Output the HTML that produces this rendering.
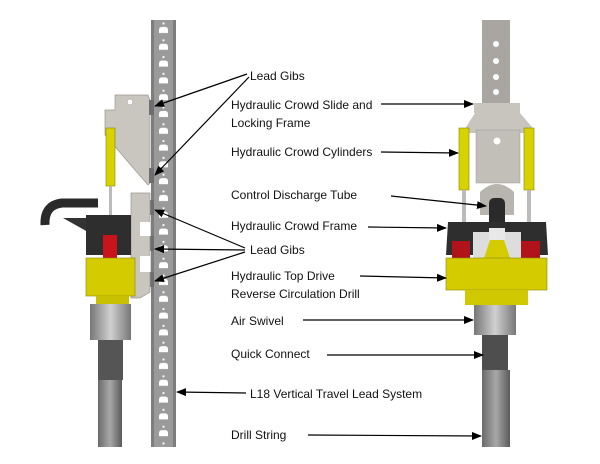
<!DOCTYPE html>
<html><head><meta charset="utf-8"><style>
html,body{margin:0;padding:0;background:#fff;}
svg{display:block;}
text{font-family:"Liberation Sans",sans-serif;font-size:12px;fill:#111;}
</style></head><body>
<svg width="600" height="464" viewBox="0 0 600 464" xmlns="http://www.w3.org/2000/svg">
<defs>
<marker id="ah" markerWidth="10" markerHeight="8" refX="9" refY="4" orient="auto" markerUnits="userSpaceOnUse">
<path d="M0,0 L10,4 L0,8 Z" fill="#000"/></marker>
<pattern id="holes" x="151" y="22" width="25" height="16.8" patternUnits="userSpaceOnUse">
<path d="M8,11 L8,8 Q8,5 11,5 L14,5 Q17,5 17,8 L17,11 Z" fill="#fff"/>
<circle cx="12.5" cy="1.5" r="1.1" fill="#fff"/>
</pattern>
<linearGradient id="gs" x1="0" x2="1"><stop offset="0" stop-color="#6a6a6a"/><stop offset="0.5" stop-color="#a8a8a8"/><stop offset="1" stop-color="#5a5a5a"/></linearGradient>
<linearGradient id="sw" x1="0" x2="1"><stop offset="0" stop-color="#777"/><stop offset="0.5" stop-color="#d0d0d0"/><stop offset="1" stop-color="#777"/></linearGradient>
</defs>

<rect x="151" y="20" width="25" height="427" fill="#9a9a9a"/>
<rect x="151" y="20" width="3" height="427" fill="#7d7d7d"/>
<rect x="173" y="20" width="3" height="427" fill="#7d7d7d"/>
<rect x="151" y="20" width="25" height="427" fill="url(#holes)"/>

<path d="M115,95 L148,95 L150,100 L150,183 L148,185 L135,170 L105,135 L105,110 L115,110 Z" fill="#c9c5bf" stroke="#9a968f" stroke-width="0.7"/>
<circle cx="130" cy="102" r="3" fill="#fff" stroke="#888" stroke-width="0.5"/>
<rect x="149" y="100" width="5" height="15" fill="#6e6e6e"/>
<rect x="149" y="168" width="5" height="15" fill="#6e6e6e"/>
<rect x="149" y="200" width="5" height="15" fill="#6e6e6e"/>
<rect x="149" y="236" width="5" height="15" fill="#6e6e6e"/>
<rect x="149" y="272" width="5" height="15" fill="#6e6e6e"/>
<path d="M131,193 L150,193 L150,292 L140,298 L131,298 Z" fill="#c9c5bf" stroke="#9a968f" stroke-width="0.7"/>
<rect x="140" y="222" width="10" height="14" fill="#fff"/>
<rect x="140" y="256" width="10" height="16" fill="#fff"/>
<rect x="106" y="128" width="9" height="58" fill="#d8d200" stroke="#8a8600" stroke-width="0.6"/>
<rect x="109" y="186" width="3" height="36" fill="#bbb"/>
<path d="M45,225 Q44,205 62,203 L98,203" fill="none" stroke="#2a2a2a" stroke-width="9"/>
<path d="M63,218 L131,218 L131,232 L88,232 Z" fill="#333"/>
<rect x="86" y="215" width="45" height="40" fill="#2e2e2e"/>
<rect x="103" y="235" width="14" height="25" fill="#c8141a"/>
<rect x="86" y="258" width="49" height="38" fill="#d4cc00" stroke="#8a8600" stroke-width="0.6"/>
<rect x="96" y="296" width="33" height="8" fill="#c8c000"/>
<rect x="90" y="304" width="41" height="36" fill="url(#sw)"/>
<rect x="98" y="340" width="25" height="40" fill="#555"/>
<rect x="98" y="380" width="24" height="67" fill="url(#gs)"/>

<rect x="482" y="20" width="28" height="90" fill="#a9a6a2"/>
<circle cx="496" cy="44" r="3" fill="#fff"/><circle cx="496" cy="61" r="3" fill="#fff"/><circle cx="496" cy="77" r="3" fill="#fff"/><circle cx="496" cy="92" r="3" fill="#fff"/>
<rect x="474" y="103" width="46" height="10" fill="#c8c4be"/>
<path d="M466,127 L475,113 L520,113 L532,127 Z" fill="#c8c4be"/>
<rect x="466" y="127" width="66" height="6" fill="#c8c4be"/>
<rect x="476" y="130" width="44" height="53" fill="#c2beb8" stroke="#999" stroke-width="0.5"/>
<circle cx="497" cy="141" r="3.5" fill="#fff"/>
<path d="M480,215 L480,192 Q497,176 514,192 L514,215 Z" fill="#b8b4ae"/>
<rect x="459" y="128" width="10" height="62" fill="#d8d200" stroke="#8a8600" stroke-width="0.6"/>
<rect x="524" y="128" width="10" height="62" fill="#d8d200" stroke="#8a8600" stroke-width="0.6"/>
<rect x="462" y="190" width="4" height="32" fill="#bbb"/>
<rect x="527" y="190" width="4" height="32" fill="#bbb"/>
<rect x="489" y="198" width="16" height="30" rx="5" fill="#2a2a2a"/>
<path d="M448,222 L546,222 L548,255 L446,255 Z" fill="#2e2e2e"/>
<rect x="473" y="232" width="48" height="26" fill="#ddd"/>
<rect x="489" y="228" width="16" height="12" fill="#e8e8e8"/>
<path d="M484,258 L490,240 L504,240 L510,258 Z" fill="#d4cc00"/>
<rect x="452" y="241" width="18" height="17" fill="#b0141a"/>
<rect x="521" y="241" width="19" height="17" fill="#b0141a"/>
<rect x="446" y="258" width="101" height="32" fill="#d4cc00" stroke="#8a8600" stroke-width="0.6"/>
<rect x="465" y="290" width="63" height="15" fill="#d0c800"/>
<rect x="474" y="305" width="42" height="30" fill="url(#sw)"/>
<rect x="482" y="335" width="26" height="35" fill="#4e4e4e"/>
<rect x="482" y="370" width="28" height="77" fill="url(#gs)"/>

<g stroke="#000" stroke-width="1.2" fill="none">
<line x1="247" y1="74" x2="155" y2="106" marker-end="url(#ah)"/>
<line x1="249" y1="77" x2="155" y2="175" marker-end="url(#ah)"/>
<line x1="381" y1="104" x2="473" y2="104" marker-end="url(#ah)"/>
<line x1="381" y1="152" x2="458" y2="153" marker-end="url(#ah)"/>
<line x1="391" y1="196" x2="486" y2="206" marker-end="url(#ah)"/>
<line x1="368" y1="227" x2="446" y2="228" marker-end="url(#ah)"/>
<line x1="245" y1="248" x2="155" y2="210" marker-end="url(#ah)"/>
<line x1="245" y1="250" x2="155" y2="249" marker-end="url(#ah)"/>
<line x1="245" y1="252" x2="155" y2="281" marker-end="url(#ah)"/>
<line x1="360" y1="276" x2="446" y2="278" marker-end="url(#ah)"/>
<line x1="303" y1="320" x2="473" y2="320" marker-end="url(#ah)"/>
<line x1="327" y1="355" x2="483" y2="355" marker-end="url(#ah)"/>
<line x1="246" y1="393" x2="177" y2="392" marker-end="url(#ah)"/>
<line x1="308" y1="435" x2="481" y2="436" marker-end="url(#ah)"/>
</g>
<text x="250" y="80">Lead Gibs</text>
<text x="231" y="109">Hydraulic Crowd Slide and</text>
<text x="231" y="127">Locking Frame</text>
<text x="231" y="156">Hydraulic Crowd Cylinders</text>
<text x="231" y="199">Control Discharge Tube</text>
<text x="231" y="230">Hydraulic Crowd Frame</text>
<text x="250" y="254">Lead Gibs</text>
<text x="231" y="280">Hydraulic Top Drive</text>
<text x="231" y="298">Reverse Circulation Drill</text>
<text x="231" y="325">Air Swivel</text>
<text x="231" y="358">Quick Connect</text>
<text x="250" y="398">L18 Vertical Travel Lead System</text>
<text x="231" y="439">Drill String</text>
</svg>
</body></html>
